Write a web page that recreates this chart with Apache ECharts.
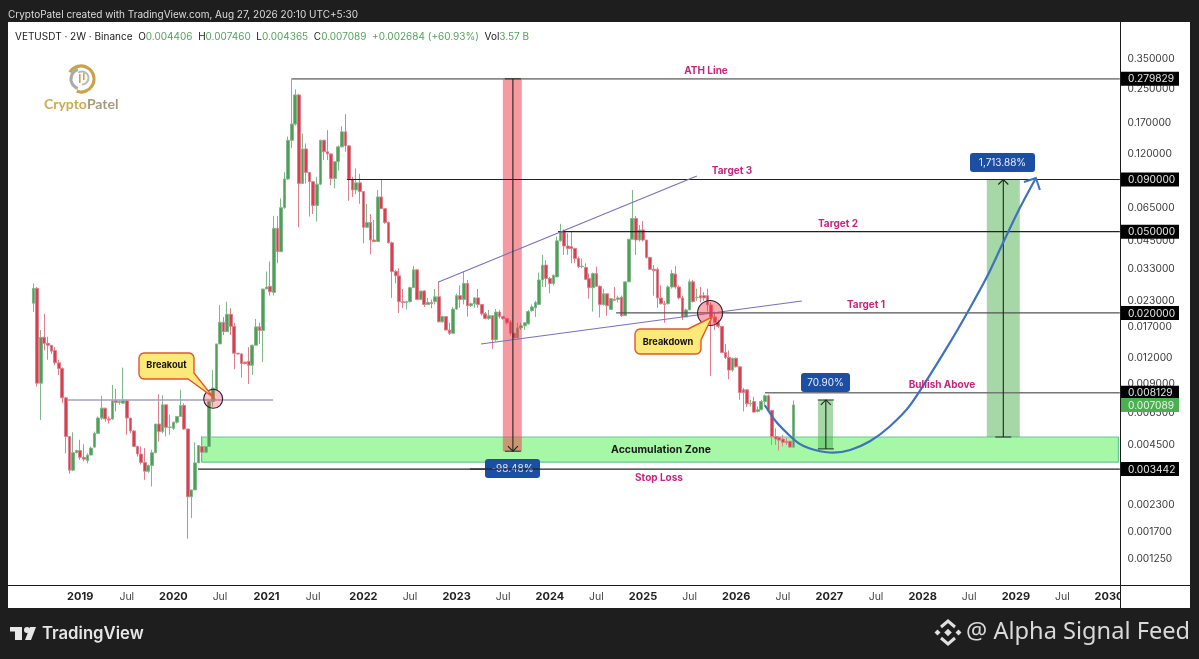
<!DOCTYPE html>
<html><head><meta charset="utf-8">
<style>html,body{margin:0;padding:0;background:#1e1e1e;overflow:hidden}
#panel{position:absolute;left:8px;top:22px;width:1182px;height:586px;background:#fff}
#c{position:absolute;left:0;top:0;width:1199px;height:659px}</style>
<script src="https://cdn.jsdelivr.net/npm/echarts@6/dist/echarts.min.js"></script>
</head><body><div id="panel"></div><div id="c"></div>
<script>
const opens=[.0223,.0264,.00906,.0152,.0142,.0139,.0131,.0114,.0107,.00768,.00497,.00340,.00414,.00424,.00393,.00379,.00403,.00441,.00515,.00612,.00684,.00606,.00606,.00743,.00729,.00723,.00746,.00612,.00529,.00444,.00408,.00371,.00336,.00358,.00414,.00572,.00525,.00710,.00551,.00545,.00584,.00623,.00705,.00541,.00252,.00272,.00369,.00444,.00416,.00444,.00737,.00841,.0141,.0180,.0162,.0197,.0172,.0127,.0126,.0115,.0116,.0111,.0139,.0171,.0164,.0262,.0270,
.0252,.0519,.0399,.0655,.0905,.140,.168,.2334,.0861,.127,.0975,.0878,.0672,.0854,.140,.123,.120,.0911,.110,.130,.154,.1315,.0902,.0800,.0867,.0785,.0525,.0555,.0455,.0447,.0739,.0648,.0555,.0441,.0319,.0304,.0227,.0225,.0227,.0266,.0325,.0233,.0256,.0220,.0225,.0227,.0240,.0181,.0192,.0165,.0159,.0209,.0243,.0233,.0279,.0217,.0222,.0237,.0220,.0198,.0188,.0194,.0148,.0202,.0192,.0188,
.0181,.0159,.0151,.0169,.0173,.0177,.0205,.0212,.0220,.0290,.0343,.0295,.0279,.0300,.0451,.0500,.0425,.0422,.0414,.0369,.0337,.0334,.0295,.0266,.0312,.0270,.0220,.0248,.0208,.0233,.0233,.0239,.0194,.0284,.0459,.0580,.0455,.0510,.0455,.0374,.0327,.0327,.0237,.0222,.0222,.0268,.0310,.0268,.0237,.0191,.0207,.0284,.0238,.0243,.0243,.0243,.0219,.0191,.0179,.0172,.0128,.0121,.0105,.0120,.0109,.00841,.00841,.00718,.00737,.00659,.00672,.00737,.00786,.00667,.00497,.00493,.00483,.00471,.00471,.004406];
const highs=[.0279,.0268,.0165,.0198,.0153,.0139,.0136,.0118,.0108,.00777,.00497,.00521,.00428,.00479,.00455,.00411,.00444,.00525,.00623,.00786,.00684,.00623,.00889,.00851,.00751,.0108,.00751,.00612,.00535,.00449,.00444,.00436,.00362,.00428,.00572,.00799,.00791,.00710,.00636,.00588,.00623,.00841,.00723,.00541,.00272,.00465,.00449,.00497,.00444,.00737,.0105,.0141,.0219,.0191,.0227,.0211,.0179,.0127,.0127,.0115,.0136,.0140,.0187,.0179,.0262,.0319,.0357,
.0597,.0597,.0727,.0975,.146,.2815,.2486,.2363,.151,.135,.0975,.0878,.0928,.141,.141,.157,.121,.110,.132,.164,.188,.1315,.0928,.102,.0960,.0785,.0685,.0610,.0571,.0800,.0895,.0648,.0560,.0447,.0325,.0331,.0262,.0228,.0269,.0339,.0327,.0256,.0259,.0237,.0233,.0262,.0283,.0194,.0192,.0179,.0214,.0248,.0273,.0319,.0290,.0225,.0239,.0262,.0220,.0202,.0207,.0194,.0209,.0207,.0192,.0188,
.0185,.0160,.0179,.0179,.0181,.0207,.0220,.0229,.0315,.0385,.0362,.0300,.0308,.0473,.0546,.0513,.0491,.0500,.0414,.0377,.0369,.0350,.0312,.0315,.0337,.0273,.0263,.0248,.0237,.0268,.0243,.0243,.0284,.0459,.0800,.0597,.0539,.0563,.0455,.0377,.0343,.0334,.0273,.0229,.0273,.0325,.0339,.0273,.0243,.0210,.0292,.0290,.0263,.0268,.0253,.0263,.0225,.0203,.0185,.0172,.0141,.0131,.0121,.0121,.0109,.00858,.00841,.00751,.00777,.00697,.00751,.00798,.00798,.00672,.00545,.00497,.00506,.00488,.00471,.00746];
const lows=[.0202,.00873,.00599,.0131,.0118,.0126,.0111,.00994,.00723,.00411,.00327,.00336,.00411,.00382,.00375,.00367,.00403,.00436,.00515,.00599,.00588,.00575,.00599,.00659,.00710,.00723,.00506,.00515,.00441,.00396,.00362,.00305,.00330,.00283,.00411,.00470,.00515,.00497,.00506,.00535,.00575,.00623,.00535,.00157,.00198,.00272,.00369,.00375,.00416,.00444,.00697,.00841,.0141,.0156,.0162,.0156,.0106,.0125,.00965,.0112,.00899,.00994,.0139,.0141,.0115,.0262,.0243,
.0243,.0350,.0399,.0648,.0895,.128,.165,.0525,.0861,.0861,.0593,.0610,.0560,.0844,.112,.112,.0844,.0816,.0994,.129,.123,.0708,.0739,.0763,.0685,.0438,.0525,.0387,.0447,.0447,.0648,.0546,.0438,.0237,.0279,.0200,.0211,.0208,.0225,.0266,.0231,.0231,.0214,.0220,.0211,.0220,.0180,.0179,.0164,.0156,.0159,.0207,.0212,.0220,.0192,.0214,.0212,.0212,.0194,.0186,.0185,.0133,.0145,.0188,.0185,.0176,
.0155,.0150,.0150,.0165,.0165,.0175,.0203,.0191,.0220,.0268,.0268,.0250,.0273,.0300,.0447,.0385,.0385,.0350,.0350,.0331,.0331,.0290,.0235,.0203,.0268,.0190,.0217,.0194,.0207,.0229,.0225,.0191,.0194,.0284,.0459,.0385,.0447,.0447,.0369,.0325,.0243,.0212,.0220,.0179,.0220,.0263,.0263,.0233,.0185,.0191,.0207,.0225,.0229,.0225,.0229,.0203,.00983,.0165,.0169,.0127,.0119,.00947,.0103,.0108,.00751,.00659,.00692,.00697,.00651,.00651,.00667,.00697,.00659,.00452,.00452,.00424,.00444,.00452,.00436,.004365];
const closes=[.0264,.00906,.0152,.0142,.0139,.0130,.0114,.0107,.00768,.00497,.00340,.00414,.00424,.00393,.00385,.00403,.00436,.00515,.00612,.00684,.00606,.00599,.00743,.00729,.00737,.00746,.00612,.00529,.00444,.00408,.00371,.00336,.00358,.00414,.00572,.00525,.00710,.00551,.00553,.00584,.00623,.00705,.00541,.00252,.00272,.00369,.00449,.00416,.00444,.00737,.00858,.0141,.0180,.0162,.0197,.0172,.0127,.0126,.0113,.0113,.0111,.0139,.0171,.0164,.0262,.0268,.0254,
.0519,.0399,.0655,.0905,.140,.168,.2334,.0861,.127,.0975,.0878,.0672,.0854,.140,.123,.120,.0911,.110,.130,.154,.1315,.0902,.0800,.0867,.0785,.0525,.0555,.0455,.0447,.0739,.0648,.0555,.0441,.0319,.0304,.0227,.0225,.0227,.0266,.0325,.0233,.0256,.0220,.0225,.0222,.0240,.0181,.0192,.0165,.0159,.0209,.0243,.0233,.0279,.0217,.0222,.0237,.0220,.0198,.0188,.0194,.0148,.0202,.0192,.0188,.0179,
.0159,.0151,.0169,.0173,.0179,.0203,.0214,.0225,.0290,.0343,.0295,.0279,.0306,.0451,.0500,.0425,.0414,.0414,.0369,.0337,.0339,.0292,.0266,.0312,.0270,.0220,.0248,.0217,.0235,.0231,.0237,.0194,.0284,.0459,.0580,.0455,.0510,.0455,.0374,.0327,.0322,.0237,.0222,.0220,.0268,.0312,.0268,.0237,.0191,.0207,.0284,.0227,.0239,.0237,.0237,.0219,.0191,.0179,.0172,.0128,.0121,.0105,.0120,.0109,.00815,.00815,.00718,.00723,.00654,.00672,.00737,.00786,.00667,.00497,.00483,.00477,.00465,.00463,.00441,.007089];

const LEAD=7, SLOTS=311;
const categories=[];
for(let i=0;i<SLOTS;i++){const d=new Date(Date.UTC(2018,6,2)+(i-LEAD)*14*864e5);categories.push(d.toISOString().slice(0,10));}
const tickSlots=[20,33,46,59,72,85,99,112,125,138,151,164,177,190,203,216,229,242,255,268,281,294,307];
const tickTexts=['2019','Jul','2020','Jul','2021','Jul','2022','Jul','2023','Jul','2024','Jul','2025','Jul','2026','Jul','2027','Jul','2028','Jul','2029','Jul','2030'];
const priceTicks=[.35,.25,.17,.12,.065,.045,.033,.023,.017,.012,.009,.0065,.0045,.0023,.0017,.00125];
const levels=[[79.1,.279829,'#8a8a8a',1.6],[94.4,.09,'#222',1.1],[153.3,.05,'#222',1.1],[169.5,.02,'#555',1.3],[211,.008129,'#777',1.5],[52.9,.003442,'#222',1.2]];
const priceTags=[[.279829,'#000'],[.09,'#000'],[.05,'#000'],[.02,'#000'],[.008129,'#000'],[.007089,'#4caf50'],[.003442,'#000']];
const wedgeUpper=[[119.8,.0283],[192,.0937]];
const wedgeLower=[[131.8,.0141],[221.3,.0229]];
const breakoutLevel=[[16.3,.0075],[73.8,.0075]];
const curve=[[211,.00707],[213.8,.00597],[217.2,.00516],[220.8,.00456],[225,.00427],[230,.00414],[234.8,.00427],[240.3,.00471],[245.9,.00558],[251.5,.00707],[262.7,.0144],[268.2,.02114],[272.9,.02995],[277.4,.044],[282.1,.0652],[286.6,.0915]];
const zone=[53.9,309.6,.00494,.00372];
const bands=[[137.9,143.2,.279829,.00421,'rgba(242,60,75,0.52)'],[225.8,230,.0075,.00432,'rgba(76,175,80,0.5)'],[272.9,282.1,.09,.00494,'rgba(76,175,80,0.5)']];
const arrows=[[140.7,.279829,.00421],[228,.00432,.0075],[277.5,.00494,.09]];
const circles=[[57.1,.0076,19,'rgba(242,54,69,0.3)'],[195.7,.02,25,'rgba(242,54,69,0.42)']];

const UP='#4f9f58',DOWN='#d8404f';
const chart=echarts.init(document.getElementById('c'),null,{renderer:'canvas'});
function seg(name,data,color,w,z){return {type:'line',name,xAxisIndex:1,data,showSymbol:false,symbol:'none',lineStyle:{color,width:w},silent:true,z:z||5,animation:false};}
const candleData=[];
for(let i=0;i<LEAD;i++)candleData.push(['-','-','-','-']);
opens.forEach((o,i)=>candleData.push([o,closes[i],lows[i],highs[i]]));
const series=[
 {type:'custom',name:'zone',xAxisIndex:1,z:1,silent:true,data:[zone],encode:{x:[0,1],y:[2,3]},
  renderItem(p,api){const a=api.coord([api.value(0),api.value(2)]),b=api.coord([api.value(1),api.value(3)]);
   return {type:'rect',shape:{x:a[0],y:a[1],width:b[0]-a[0],height:b[1]-a[1]},style:{fill:'#a6f7a6',stroke:'#6fc49a',lineWidth:1.2}};}},
 {type:'candlestick',name:'VETUSDT',barWidth:3.2,z:3,silent:true,
  data:candleData,
  itemStyle:{color:UP,color0:DOWN,borderColor:'#7fb98a',borderColor0:'#dd7f8c',borderWidth:1}},
 {type:'custom',name:'bands',xAxisIndex:1,z:4,silent:true,data:bands.map(b=>b.slice(0,4)),encode:{x:[0,1],y:[2,3]},
  renderItem(p,api){const a=api.coord([api.value(0),api.value(2)]),b=api.coord([api.value(1),api.value(3)]);
   return {type:'rect',shape:{x:a[0],y:a[1],width:b[0]-a[0],height:b[1]-a[1]},style:{fill:bands[p.dataIndex][4]}};}},
 ...levels.map((l,i)=>seg('level'+i,[[l[0],l[1]],[310,l[1]]],l[2],l[3])),
 seg('wedgeUpper',wedgeUpper,'#7a70b8',1.1),
 seg('wedgeLower',wedgeLower,'#7a70b8',1.1),
 seg('breakout',breakoutLevel,'#a39fbe',1.4),
 Object.assign(seg('curve',curve,'#3f72bb',2.2,6),{smooth:0.3}),
 {type:'custom',name:'arrows',xAxisIndex:1,z:6,silent:true,data:arrows,encode:{x:0,y:[1,2]},
  renderItem(p,api){const a=api.coord([api.value(0),api.value(1)]),b=api.coord([api.value(0),api.value(2)]);const s=b[1]<a[1]?1:-1;
   return {type:'group',children:[
    {type:'line',shape:{x1:a[0],y1:a[1],x2:b[0],y2:b[1]},style:{stroke:'#1c2a1c',lineWidth:1.1}},
    {type:'polyline',shape:{points:[[b[0]-5,b[1]+s*5],[b[0],b[1]],[b[0]+5,b[1]+s*5]]},style:{fill:'none',stroke:'#1c2a1c',lineWidth:1.1}},
    {type:'line',shape:{x1:a[0]-8,y1:a[1],x2:a[0]+8,y2:a[1]},style:{stroke:'#1c2a1c',lineWidth:1}},
    {type:'line',shape:{x1:b[0]-8,y1:b[1],x2:b[0]+8,y2:b[1]},style:{stroke:'#1c2a1c',lineWidth:1}}
   ]};}},
 {type:'custom',name:'curveHead',xAxisIndex:1,z:6,silent:true,data:[curve[curve.length-1]],encode:{x:0,y:1},
  renderItem(p,api){const t=api.coord([api.value(0),api.value(1)]);
   return {type:'polyline',shape:{points:[[t[0]-12,t[1]+4],[t[0],t[1]],[t[0]+4,t[1]+12]]},style:{fill:'none',stroke:'#3f72bb',lineWidth:2}};}},
 ...circles.map((c,i)=>({type:'scatter',name:'circle'+i,xAxisIndex:1,z:7,silent:true,symbol:'circle',symbolSize:c[2],data:[[c[0],c[1]]],itemStyle:{color:c[3],borderColor:'#2a2233',borderWidth:1.1,opacity:1}}))
];
const yBase={type:'log',logBase:10,position:'right',min:.000932,max:.531,scale:true,
 axisLine:{show:false},axisTick:{show:false},splitLine:{show:false},minorTick:{show:false},minorSplitLine:{show:false},
 axisLabel:{customValues:priceTicks,formatter:v=>Number(v).toFixed(6),color:'#3a3a3a',fontFamily:'Inter',fontSize:10.2,margin:6,align:'left',showMinLabel:true,showMaxLabel:true,hideOverlap:false}};
chart.setOption({animation:false,backgroundColor:'transparent',
 grid:{left:6.7,top:22,width:1114.9,height:563,containLabel:false},
 xAxis:[{type:'category',data:categories,boundaryGap:true,axisLine:{show:false},axisTick:{show:false},splitLine:{show:false},
   axisLabel:{hideOverlap:false,margin:6,interval:(i)=>tickSlots.includes(i),formatter:(v,i)=>{const k=tickSlots.indexOf(i);if(k<0)return '';const t=tickTexts[k];return t==='Jul'?'{m|Jul}':'{y|'+t+'}';},
    rich:{y:{fontFamily:'Inter',fontWeight:700,fontSize:11,color:'#222'},m:{fontFamily:'Inter',fontSize:10.5,color:'#444'}}}},
  {type:'value',min:-.5,max:310.5,show:false,splitLine:{show:false}}],
 yAxis:yBase,series});

const py=v=>chart.convertToPixel({yAxisIndex:0},v);
const g=[];
const T=(x,y,text,o)=>g.push({type:'text',x,y,z:30,silent:true,style:Object.assign({text,fill:'#000',fontFamily:'Inter',fontSize:11,align:'left',verticalAlign:'middle'},o||{})});
const R=(x,y,w,h,fill,o)=>g.push({type:'rect',z:o&&o.z||25,silent:true,shape:{x,y,width:w,height:h,r:o&&o.r||0},style:{fill,stroke:o&&o.stroke,lineWidth:o&&o.lw||0}});
R(1120,22,1,586,'#1a1a1a',{z:28});
R(8,585,1182,1,'#1a1a1a',{z:28});
R(1121,586,69,22,'#fff',{z:27});
T(8,15,'CryptoPatel created with TradingView.com, Aug 27, 2026 20:10 UTC+5:30',{fill:'#dcdcdc',fontSize:10});
const G='#56a05f';
g.push({type:'text',x:15,y:37,z:30,silent:true,style:{fontFamily:'Inter',fontSize:10,verticalAlign:'middle',
 text:'{k|VETUSDT · 2W · Binance}  {k|O}{v|0.004406}  {k|H}{v|0.007460}  {k|L}{v|0.004365}  {k|C}{v|0.007089}  {v|+0.002684 (+60.93%)}  {k|Vol}{v|3.57 B}',
 rich:{k:{fill:'#1a1a1a',fontFamily:'Inter',fontSize:10},v:{fill:G,fontFamily:'Inter',fontSize:10}}}});
g.push({type:'arc',z:30,silent:true,shape:{cx:81,cy:79,r:13,startAngle:-2.6,endAngle:1.9,clockwise:true},style:{stroke:'#c9a24a',lineWidth:3.2,fill:'none'}});
g.push({type:'arc',z:30,silent:true,shape:{cx:81,cy:79,r:10,startAngle:1.9,endAngle:4.4,clockwise:true},style:{stroke:'#a9a9a9',lineWidth:3,fill:'none'}});
g.push({type:'arc',z:30,silent:true,shape:{cx:82,cy:78,r:6.5,startAngle:-2.2,endAngle:1.6,clockwise:true},style:{stroke:'#b9b9b9',lineWidth:2,fill:'none'}});
g.push({type:'rect',z:30,silent:true,shape:{x:79,y:74,width:1.6,height:9},style:{fill:'#c9a24a'}});
g.push({type:'rect',z:30,silent:true,shape:{x:83,y:73,width:1.6,height:7},style:{fill:'#c9a24a'}});
g.push({type:'text',x:44,y:104,z:30,silent:true,style:{text:'{a|Crypto}{b|Patel}',verticalAlign:'middle',fontFamily:'Lato',fontSize:14,rich:{a:{fill:'#cfa94f',fontFamily:'Lato',fontWeight:700,fontSize:14},b:{fill:'#a59a7d',fontFamily:'Lato',fontWeight:700,fontSize:14}}}});
const PINK='#c4277c';
[['ATH Line',706,71],['Target 3',732,171],['Target 2',838,224],['Target 1',866,305],['Bullish Above',942,385],['Stop Loss',659,478]].forEach(a=>T(a[1],a[2],a[0],{fill:PINK,fontWeight:700,fontSize:10,align:'center'}));
T(661,450,'Accumulation Zone',{fontWeight:700,fontSize:10.5,align:'center',fill:'#1a1a1a'});
const corner=(cx,cy,r,a)=>[0,1,2,3].map(k=>{const t=a+k*Math.PI/6;return [cx+r*Math.cos(t),cy+r*Math.sin(t)];});
const P=Math.PI;
const callout1=[...corner(189,358,5,-P/2),[194,373],[213,397],[188,379],...corner(144,374,5,P/2),...corner(144,358,5,P)];
const callout2=[[688,329],[712,317],[701,340],...corner(696,349,5,0),...corner(640,349,5,P/2),...corner(640,334,5,P)];
[callout1,callout2].forEach(pts=>g.push({type:'polygon',z:26,silent:true,shape:{points:pts},style:{fill:'#fde97a',stroke:'#e2572b',lineWidth:1.4}}));
T(166.5,365,'Breakout',{fontWeight:700,fontSize:9.2,align:'center',fill:'#111'});
T(668,342,'Breakdown',{fontWeight:700,fontSize:9.2,align:'center',fill:'#111'});
[[485,459,55,19,'-98.48%'],[801,373,49,19,'70.90%'],[970,153,65,19,'1,713.88%']].forEach(b=>{R(b[0],b[1],b[2],b[3],'#1c4fa3',{r:3});T(b[0]+b[2]/2,b[1]+b[3]/2+.5,b[4],{fill:'#e8eefc',fontSize:10,align:'center'});});
R(470,468.5,70,1,'#1a1a1a',{z:31});
priceTags.forEach(t=>{const y=py(t[0]);R(1120,y-7,59,14,t[1],{z:27});T(1128,y+.5,t[0].toFixed(6),{fill:t[1]==='#000'?'#e6e6e6':'#e8f6e8',fontSize:10.2});});
R(10,627,12,4.5,'#e8e8e8');R(15,627,7,13,'#e8e8e8');
g.push({type:'circle',z:25,silent:true,shape:{cx:27,cy:630,r:3},style:{fill:'#e8e8e8'}});
g.push({type:'polygon',z:25,silent:true,shape:{points:[[30,627],[36,627],[31,640],[25,640]]},style:{fill:'#e8e8e8'}});
T(42,634,'TradingView',{fill:'#e6e6e6',fontWeight:600,fontSize:16.7});
T(1190,632,'@ Alpha Signal Feed',{fill:'#d9d9d9',fontFamily:'Noto Sans',fontSize:23.6,align:'right'});
[[937.5,632.5,3],[958.5,632.5,3],[948,632.5,3.8]].forEach(p=>{const [x,y,s]=p;g.push({type:'polygon',z:25,silent:true,shape:{points:[[x,y-s],[x+s,y],[x,y+s],[x-s,y]]},style:{fill:'#e0e0e0'}});});
[[[941,627],[948,621],[955,627]],[[941,638],[948,644],[955,638]]].forEach(pts=>g.push({type:'polyline',z:25,silent:true,shape:{points:pts},style:{fill:'none',stroke:'#e0e0e0',lineWidth:3}}));
chart.setOption({graphic:{elements:g}});
</script></body></html>
